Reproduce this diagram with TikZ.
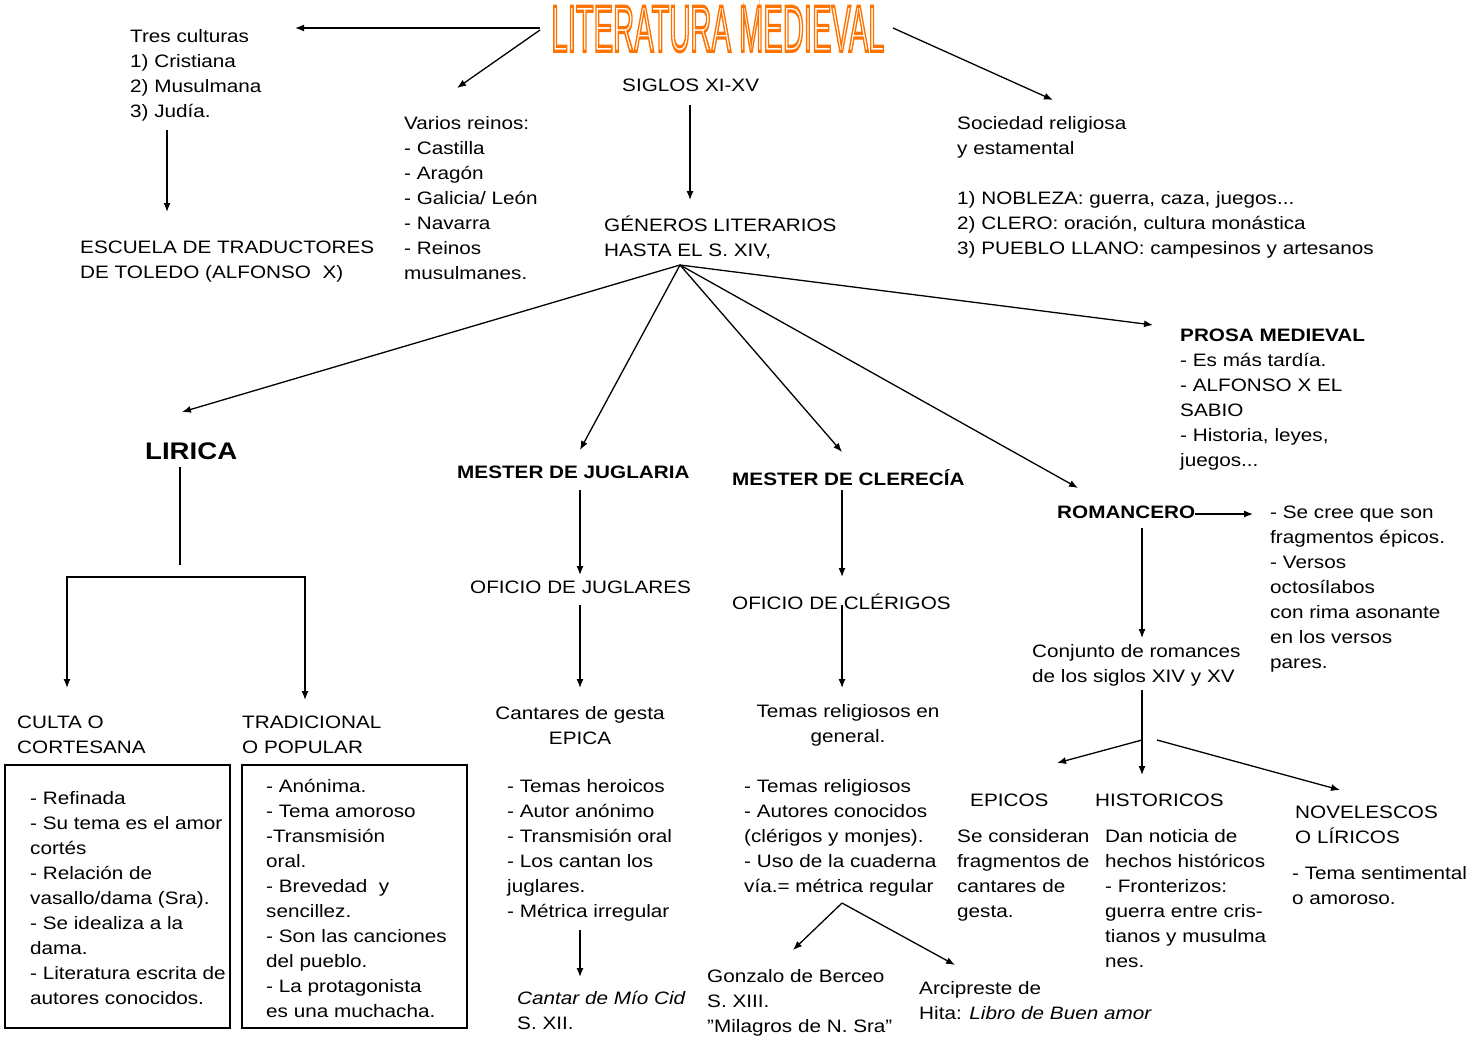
\documentclass[tikz,border=0pt]{standalone}
\usepackage{fontspec}
\setmainfont{Liberation Sans}[FakeStretch=1.15]
\usepackage{graphicx}
\usetikzlibrary{arrows.meta}
\begin{document}
\begin{tikzpicture}[x=1pt,y=-1pt,
 t/.style={anchor=north west,inner sep=0pt,align=left,font=\fontsize{18}{25}\selectfont},
 tc/.style={anchor=north,inner sep=0pt,align=center,font=\fontsize{18}{25}\selectfont},
 b/.style={t,font=\fontsize{18}{25}\selectfont\bfseries},
 a/.style={-{Latex[length=9pt,width=7pt]},line width=1.3pt},
 l/.style={line width=1.3pt}]
\useasboundingbox (0,0) rectangle (1472,1045);
\node[inner sep=0pt,text=orange!90!red] (title) at (718,29) {\resizebox{333pt}{45pt}{\special{pdf:code 1 Tr 0.5 w}LITERATURA MEDIEVAL\special{pdf:code 0 Tr}}};
\node[t] (tres) at (130,29) {Tres culturas\\1) Cristiana\\2) Musulmana\\3) Judía.};
\node[t] (esc) at (80,241) {ESCUELA DE TRADUCTORES\\DE TOLEDO (ALFONSO\ \ X)};
\node[t] (reinos) at (404,116) {Varios reinos:\\- Castilla\\- Aragón\\- Galicia/ León\\- Navarra\\- Reinos\\musulmanes.};
\node[t] (siglos) at (622,79) {SIGLOS XI-XV};
\node[t] (gen) at (604,216) {GÉNEROS LITERARIOS\\HASTA EL S. XIV,};
\node[t] (soc) at (957,116) {Sociedad religiosa\\y estamental\\[25pt]1) NOBLEZA: guerra, caza, juegos...\\2) CLERO: oración, cultura monástica\\3) PUEBLO LLANO: campesinos y artesanos};
\node[t] (prosa) at (1180,329) {\textbf{PROSA MEDIEVAL}\\- Es más tardía.\\- ALFONSO X EL\\SABIO\\- Historia, leyes,\\juegos...};
\node[b,font=\fontsize{24}{28}\selectfont\bfseries] (lirica) at (145,443) {LIRICA};
\node[b] (jug) at (457,466) {MESTER DE JUGLARIA};
\node[b] (cle) at (732,469) {MESTER DE CLERECÍA};
\node[b] (rom) at (1057,506) {ROMANCERO};
\node[t] (romn) at (1270,506) {- Se cree que son\\fragmentos épicos.\\- Versos\\octosílabos\\con rima asonante\\en los versos\\pares.};
\node[t] (ofj) at (470,581) {OFICIO DE JUGLARES};
\node[t] (ofc) at (732,594) {OFICIO DE CLÉRIGOS};
\node[t] (conj) at (1032,644) {Conjunto de romances\\de los siglos XIV y XV};
\node[t] (culta) at (17,716) {CULTA O\\CORTESANA};
\node[t] (trad) at (242,716) {TRADICIONAL\\O POPULAR};
\node[tc] (cant) at (580,706) {Cantares de gesta\\EPICA};
\node[tc] (temas) at (848,704) {Temas religiosos en\\general.};
\draw[line width=1.5pt] (5,765) rectangle (230,1028);
\draw[line width=1.5pt] (242,765) rectangle (467,1028);
\node[t] (box1) at (30,791) {- Refinada\\- Su tema es el amor\\cortés\\- Relación de\\vasallo/dama (Sra).\\- Se idealiza a la\\dama.\\- Literatura escrita de\\autores conocidos.};
\node[t] (box2) at (266,779) {- Anónima.\\- Tema amoroso\\-Transmisión\\oral.\\- Brevedad\ \ y\\sencillez.\\- Son las canciones\\del pueblo.\\- La protagonista\\es una muchacha.};
\node[t] (jl) at (507,779) {- Temas heroicos\\- Autor anónimo\\- Transmisión oral\\- Los cantan los\\juglares.\\- Métrica irregular};
\node[t] (cid) at (517,991) {\textit{Cantar de Mío Cid}\\S. XII.};
\node[t] (cl) at (744,779) {- Temas religiosos\\- Autores conocidos\\(clérigos y monjes).\\- Uso de la cuaderna\\vía.= métrica regular};
\node[t] (berceo) at (707,969) {Gonzalo de Berceo\\S. XIII.\\\symbol{34}Milagros de N. Sra\symbol{34}};
\node[t] (hita) at (919,981) {Arcipreste de\\Hita: \textit{Libro de Buen amor}};
\node[t] (epicos) at (970,794) {EPICOS};
\node[t] (epn) at (957,829) {Se consideran\\fragmentos de\\cantares de\\gesta.};
\node[t] (hist) at (1095,794) {HISTORICOS};
\node[t] (hn) at (1105,829) {Dan noticia de\\hechos históricos\\- Fronterizos:\\guerra entre cris-\\tianos y musulma\\nes.};
\node[t] (nov) at (1295,806) {NOVELESCOS\\O LÍRICOS};
\node[t] (novn) at (1292,866) {- Tema sentimental\\o amoroso.};
% connectors
\coordinate (TL) at (540,28); \coordinate (TR) at (893,28);
\draw[a] (TL) -- (295,28);
\draw[a] (540,30) -- (457,88);
\draw[a] (TR) -- (1053,100);
\draw[a] (690,105) -- (690,200);
\draw[a] (167,130) -- (167,212);
\coordinate (G) at (680,265);
\draw[a] (G) -- (182,412);
\draw[a] (G) -- (580,450);
\draw[a] (G) -- (842,452);
\draw[a] (G) -- (1078,488);
\draw[a] (G) -- (1153,325);
\draw[l] (180,467) -- (180,565);
\draw[l] (67,577) -- (305,577);
\draw[a] (67,576) -- (67,688);
\draw[a] (305,576) -- (305,700);
\draw[a] (580,490) -- (580,575);
\draw[a] (580,605) -- (580,688);
\draw[a] (580,930) -- (580,977);
\draw[a] (842,490) -- (842,577);
\draw[a] (842,605) -- (842,688);
\draw[a] (1195,514) -- (1253,514);
\draw[a] (1142,528) -- (1142,638);
\draw[a] (1142,690) -- (1142,775);
\draw[a] (1142,740) -- (1057,763);
\draw[a] (1157,740) -- (1340,790);
\coordinate (V) at (842,903);
\draw[a] (V) -- (793,950);
\draw[a] (V) -- (955,965);
\end{tikzpicture}
\end{document}
